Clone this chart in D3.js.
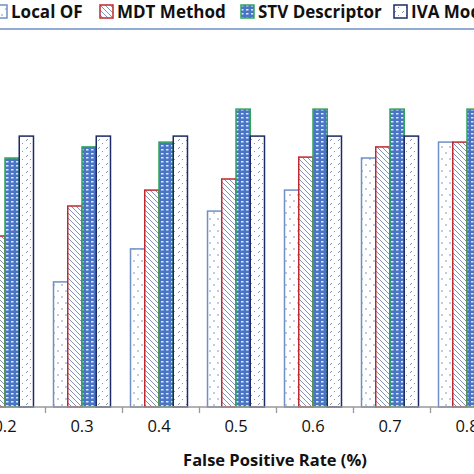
<!DOCTYPE html>
<html><head><meta charset="utf-8">
<script src="https://cdn.jsdelivr.net/npm/d3@7"></script>
<style>body{margin:0;background:#fff}svg{display:block}</style>
</head><body><svg id="c" width="474" height="474"></svg>
<script>
const categories = ["0.2","0.3","0.4","0.5","0.6","0.7","0.8"];
const series = ["Local OF","MDT Method","STV Descriptor","IVA Model"];
const localOF = [29, 41.7, 52.7, 65.3, 72.3, 83, 88.3];
const mdt     = [57, 67, 72.3, 76, 83.3, 86.7, 88.3];
const stv     = [83, 86.7, 88.3, 99.3, 99.3, 99.3, 99.3];
const iva     = [90.3, 90.3, 90.3, 90.3, 90.3, 90.3, 88.3];
const values = [localOF, mdt, stv, iva];

const svg = d3.select("#c");
const defs = svg.append("defs");
let p = defs.append("pattern").attr("id","p0").attr("patternUnits","userSpaceOnUse").attr("width",8).attr("height",12);
p.append("rect").attr("width",8).attr("height",12).attr("fill","#fff");
p.append("circle").attr("cx",2).attr("cy",3).attr("r",0.8).attr("fill","#6b8cc4");
p.append("circle").attr("cx",6).attr("cy",9).attr("r",0.8).attr("fill","#6b8cc4");
p = defs.append("pattern").attr("id","p1").attr("patternUnits","userSpaceOnUse").attr("width",5).attr("height",5);
p.append("rect").attr("width",5).attr("height",5).attr("fill","#fff");
p.append("path").attr("d","M-1,-1L6,6M-1,4L1,6M4,-1L6,1").attr("stroke","#7f93b8").attr("stroke-width",1);
p = defs.append("pattern").attr("id","p2").attr("patternUnits","userSpaceOnUse").attr("width",5).attr("height",4);
p.append("rect").attr("width",5).attr("height",4).attr("fill","#4a74c4");
p.append("rect").attr("x",1).attr("y",1).attr("width",2.5).attr("height",1.5).attr("fill","#dfe8f8");
p = defs.append("pattern").attr("id","p3").attr("patternUnits","userSpaceOnUse").attr("width",8).attr("height",8);
p.append("rect").attr("width",8).attr("height",8).attr("fill","#fff");
p.append("path").attr("d","M2,5L4,3M6,8L7,7").attr("stroke","#7f93b8").attr("stroke-width",1);
const strokes = ["#6f90c6","#c0282e","#2fa55a","#1d2a66"];

const x = d3.scaleBand().domain(categories).range([-33.5, 505.5]).paddingInner(0.26).paddingOuter(0.13);
const xs = d3.scaleBand().domain(series).range([0, x.bandwidth()]);
const y = d3.scaleLinear().domain([0,100]).range([407,107]);

svg.append("line").attr("x1",0).attr("x2",474).attr("y1",29).attr("y2",29).attr("stroke","#6d8fc3").attr("stroke-width",1.5);

const g = svg.append("g");
categories.forEach((c,i)=>{
  series.forEach((s,j)=>{
    g.append("rect").attr("x",x(c)+xs(s)).attr("y",y(values[j][i]))
     .attr("width",xs.bandwidth()).attr("height",y(0)-y(values[j][i]))
     .attr("fill",`url(#p${j})`).attr("stroke",strokes[j]).attr("stroke-width",1.5);
  });
});

const ax = svg.append("g").attr("transform","translate(0,407)");
ax.append("line").attr("x1",0).attr("x2",474).attr("stroke","#999").attr("stroke-width",1.3);
const step = x.step();
categories.slice(1).forEach(c=>{
  const tx = x(c) - (step - x.bandwidth())/2 + 2;
  ax.append("line").attr("x1",tx).attr("x2",tx).attr("y1",0).attr("y2",6).attr("stroke","#999").attr("stroke-width",1.3);
});
categories.forEach(c=>{
  ax.append("text").attr("x",x(c)+x.bandwidth()/2).attr("y",25).attr("text-anchor","middle")
    .attr("font-family","'Open Sans', 'Liberation Sans', sans-serif").attr("font-size",16.5).attr("fill","#111").text(c);
});
svg.append("text").attr("x",275).attr("y",466).attr("text-anchor","middle")
  .attr("font-family","'Open Sans', 'Liberation Sans', sans-serif").attr("font-weight","bold").attr("font-size",16.5).attr("fill","#111").text("False Positive Rate (%)");

const lx = [-6, 100, 241, 394];
series.forEach((s,j)=>{
  svg.append("rect").attr("x",lx[j]).attr("y",5).attr("width",13).attr("height",13)
     .attr("fill",`url(#p${j})`).attr("stroke",strokes[j]).attr("stroke-width",1.5);
  svg.append("text").attr("x",lx[j]+17).attr("y",18).attr("font-family","'Open Sans', 'Liberation Sans', sans-serif")
     .attr("font-weight","bold").attr("font-size",17).attr("fill","#111").text(s);
});
</script></body></html>
